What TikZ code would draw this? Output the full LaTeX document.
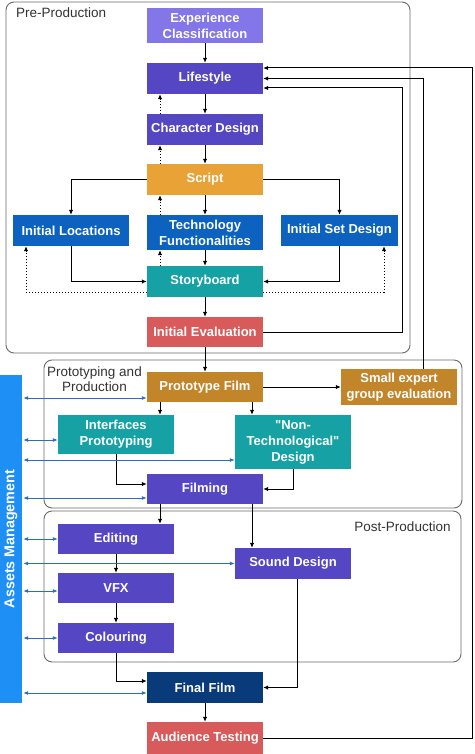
\documentclass[tikz,border=0pt]{standalone}
\usepackage{fontspec}
\setmainfont{Liberation Sans}[Ligatures=TeXOff]
\usetikzlibrary{arrows.meta,calc}
\definecolor{expc}{HTML}{8276E8}
\definecolor{purp}{HTML}{5546C4}
\definecolor{orng}{HTML}{E9A235}
\definecolor{blu}{HTML}{0D62C0}
\definecolor{teal2}{HTML}{16A2A4}
\definecolor{redc}{HTML}{D85A5A}
\definecolor{brwn}{HTML}{C2852A}
\definecolor{navy}{HTML}{093A7A}
\definecolor{amc}{HTML}{1E8FF5}
\definecolor{bluearr}{HTML}{2A6EC0}
\definecolor{grpc}{HTML}{6A6A6A}
\begin{document}
\begin{tikzpicture}[x=1pt,y=-1pt,
  box/.style={rectangle, draw=none, text=white, font=\bfseries\fontsize{13}{16}\selectfont, align=center, inner sep=0pt, minimum width=116pt, minimum height=31pt},
  arr/.style={line width=1pt, -{Latex[length=5pt,width=4.5pt]}},
  dotarr/.style={arr, dotted},
  barr/.style={draw=bluearr, line width=0.9pt, {Latex[length=5pt,width=4pt]}-{Latex[length=5pt,width=4pt]}},
  grp/.style={draw=grpc, rounded corners=8pt, line width=0.9pt},
  lbl/.style={font=\fontsize{13.5}{15}\selectfont, text=black!80, inner sep=0pt, align=center}]
\useasboundingbox[fill=white] (0,0) rectangle (474,754);

% group frames
\draw[grp] (6,2) rectangle (410,353);
\draw[grp] (44,360) rectangle (462,508);
\draw[grp] (44,511) rectangle (461,662);
\node[lbl, anchor=west] (lpre) at (16,13) {Pre-Production};
\node[lbl] (lproto) at (94.5,379) {Prototyping and\\Production};
\node[lbl] (lpost) at (402.5,527) {Post-Production};

% boxes
\node[box, fill=expc, minimum height=35pt] (exp) at (205,25.5) {Experience\\Classification};
\node[box, fill=purp] (life) at (205,78.5) {Lifestyle};
\node[box, fill=purp] (char) at (205,129.5) {Character Design};
\node[box, fill=orng] (script) at (205,179.5) {Script};
\node[box, fill=blu, minimum height=35pt] (tech) at (205,232.5) {Technology\\Functionalities};
\node[box, fill=blu] (locs) at (71,230.5) {Initial Locations};
\node[box, fill=blu, minimum width=117pt] (set) at (339.5,230.5) {Initial Set Design};
\node[box, fill=teal2] (story) at (205,281.5) {Storyboard};
\node[box, fill=redc, minimum height=30pt] (ieval) at (205,332) {Initial Evaluation};
\node[box, fill=brwn, minimum height=30pt] (proto) at (205,387) {Prototype Film};
\node[box, fill=brwn, minimum height=36pt] (small) at (399,387) {Small expert\\group evaluation};
\node[box, fill=teal2, minimum height=39pt] (iface) at (116,434.5) {Interfaces\\Prototyping};
\node[box, fill=teal2, minimum height=54pt] (nontech) at (293,442) {"Non-\\Technological"\\Design};
\node[box, fill=purp, minimum height=30pt] (film) at (205,489) {Filming};
\node[box, fill=purp, minimum height=30pt] (edit) at (116,539) {Editing};
\node[box, fill=purp] (sound) at (293,563.5) {Sound Design};
\node[box, fill=purp, minimum height=30pt] (vfx) at (116,588) {VFX};
\node[box, fill=purp, minimum height=30pt] (colour) at (116,638) {Colouring};
\node[box, fill=navy] (final) at (205,687.5) {Final Film};
\node[box, fill=redc, minimum height=32pt] (aud) at (205,738) {Audience Testing};
\node[rectangle, fill=amc, text=white, inner sep=0pt, minimum width=328pt, minimum height=22pt, rotate=90, font=\bfseries\fontsize{14.3}{16}\selectfont] (am) at (11,539) {Assets Management};

% main flow
\draw[arr] (exp) -- (life);
\draw[arr] (life) -- (char);
\draw[arr] (char) -- (script);
\draw[arr] (script) -- (tech);
\draw[arr] (tech) -- (story);
\draw[arr] (story) -- (ieval);
\draw[arr] (ieval) -- (proto);
\draw[arr] (script.west) -| (locs.north);
\draw[arr] (script.east) -| (set.north);
\draw[arr] (locs.south) |- (story.west);
\draw[arr] (set.south) |- (story.east);

% dotted feedback
\draw[dotarr] ([xshift=-45pt]story.north) -- ([xshift=-45pt]tech.south);
\draw[dotarr] ([xshift=-45pt]tech.north) -- ([xshift=-45pt]script.south);
\draw[dotarr] ([xshift=-45pt]script.north) -- ([xshift=-45pt]char.south);
\draw[dotarr] ([xshift=-45pt]char.north) -- ([xshift=-45pt]life.south);
\draw[dotarr] ([yshift=-10.5pt]story.west) -| ([xshift=-45pt]locs.south);
\draw[dotarr] ([yshift=-10.5pt]story.east) -| ([xshift=44.5pt]set.south);

% feedback to lifestyle
\coordinate (fbA) at (402,88);
\coordinate (fbC) at (472.5,68);
\draw[arr] (ieval.east) -| (fbA) -- ([yshift=-9.5pt]life.east);
\draw[arr] ([xshift=24pt]small.north) |- (life.east);
\draw[arr] (aud.east) -| (fbC) -- ([yshift=10.5pt]life.east);

% production
\draw[arr] (proto) -- (small);
\draw[arr] ([xshift=-45pt]proto.south) -- ([xshift=-45pt]proto.south |- iface.north);
\draw[arr] ([xshift=47pt]proto.south) -- ([xshift=47pt]proto.south |- nontech.north);
\draw[arr] (iface.south) |- ([yshift=5pt]film.west);
\draw[arr] (nontech.south) |- (film.east);
\draw[arr] ([xshift=-45pt]film.south) -- ([xshift=-45pt]film.south |- edit.north);
\draw[arr] ([xshift=47pt]film.south) -- ([xshift=47pt]film.south |- sound.north);

% post-production
\draw[arr] (edit) -- (vfx);
\draw[arr] (vfx) -- (colour);
\draw[arr] (colour.south) |- ([yshift=6.5pt]final.west);
\draw[arr] ([xshift=4pt]sound.south) |- (final.east);
\draw[arr] (final) -- (aud);

% assets management links
\coordinate (p1) at ([yshift=-11pt]proto.west);
\coordinate (p2) at ([yshift=-5.5pt]iface.west);
\coordinate (p3) at ([yshift=-18pt]nontech.west);
\coordinate (p4) at ([yshift=-9pt]film.west);
\coordinate (p5) at (edit.west);
\coordinate (p6) at (sound.west);
\coordinate (p7) at ([yshift=-3pt]vfx.west);
\coordinate (p8) at (colour.west);
\coordinate (p9) at ([yshift=-5.5pt]final.west);
\foreach \p in {p1,p2,p3,p4,p5,p6,p7,p8,p9}
  \draw[barr] ([xshift=1pt]am.south |- \p) -- (\p);
\end{tikzpicture}
\end{document}
